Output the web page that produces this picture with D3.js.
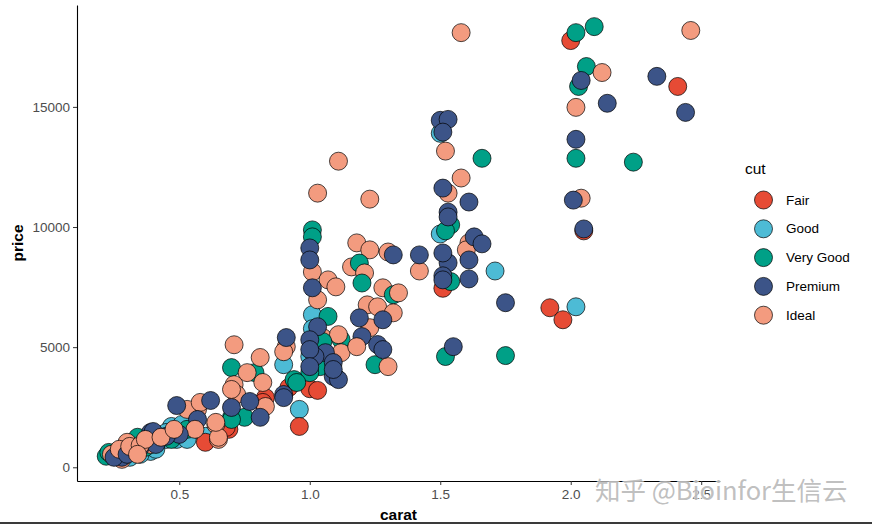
<!DOCTYPE html>
<html><head><meta charset="utf-8">
<script src="https://cdn.jsdelivr.net/npm/d3@7"></script>
<style>
html,body{margin:0;padding:0;background:#fff;}
svg{display:block;font-family:"Liberation Sans",Arial,sans-serif;}
</style>
</head><body>
<svg id="chart" width="872" height="525"></svg>
<script>
// ---- data (carat, price) ----
const cuts = ["Fair","Good","Very Good","Premium","Ideal"];
const cutColors = ["#E64B35","#4DBBD5","#00A087","#3C5488","#F39B7F"];
const xTicks = [0.5,1.0,1.5,2.0,2.5];
const yTicks = [0,5000,10000,15000];

const fair = [[2.00,17760],[2.41,15850],[1.92,6640],[1.97,6140],[2.05,9840],[1.51,7450],[1.00,3270],[1.03,3200],[0.92,3320],[0.96,1700],[0.83,2900],[0.69,1580],[0.68,1660],[0.60,1040],[0.82,2700]];
const good = [[2.02,6680],[1.71,8170],[1.50,9710],[1.50,13900],[1.01,6350],[1.01,5770],[1.00,4610],[0.90,4270],[0.96,2410],[0.45,1160],[0.47,1700],[0.51,1785],[0.60,1290],[0.45,1450],[0.31,415],[0.39,660],[0.49,1160],[0.35,540],[0.41,750],[0.53,1160]];
const veryGood = [[2.02,18090],[2.09,18340],[2.06,16680],[2.03,15850],[2.02,12860],[2.24,12700],[1.66,12860],[1.54,10090],[1.52,9840],[1.54,7730],[1.52,4610],[1.75,4650],[1.01,9880],[1.01,9590],[1.07,6280],[1.12,5310],[1.04,4190],[1.00,3940],[1.19,8500],[1.20,7670],[1.32,7180],[1.25,4270],[0.94,3650],[0.95,3530],[0.70,4150],[0.79,3940],[0.70,2080],[0.75,2080],[0.70,1990],[0.34,1250],[0.22,460],[0.23,620],[1.10,3740],[1.05,5230],[0.28,750],[0.27,540],[0.31,750],[0.37,830],[0.47,1160],[0.53,1580]];
const premium = [[2.33,16270],[2.44,14770],[2.14,15150],[2.04,16100],[2.02,13650],[2.01,11120],[2.05,9920],[1.50,14440],[1.53,14480],[1.51,13950],[1.51,11620],[1.61,11040],[1.53,10620],[1.53,10420],[1.63,9590],[1.66,9300],[1.61,8630],[1.53,8510],[1.51,8920],[1.51,7970],[1.51,7800],[1.61,7840],[1.75,6850],[1.55,5020],[1.42,8840],[1.32,8840],[1.19,6220],[1.28,6140],[1.20,5440],[1.26,5110],[1.28,4900],[1.00,9130],[1.00,8630],[1.01,7470],[1.03,5850],[1.06,4770],[1.09,4360],[1.09,3780],[1.11,3650],[0.91,5400],[0.90,3030],[0.90,2900],[1.00,5310],[1.02,4610],[1.09,4070],[0.70,2490],[0.77,2740],[0.81,2080],[0.62,2780],[0.57,1990],[0.49,2570],[0.50,1370],[0.39,1450],[0.40,1490],[1.00,4900],[1.00,4190],[0.35,830],[0.28,415],[0.25,415],[0.30,540],[0.41,950],[0.45,1290]];
const ideal = [[2.46,18180],[1.58,18090],[2.12,16430],[2.02,14980],[2.04,11200],[1.52,13160],[1.58,12040],[1.53,11410],[1.61,9340],[1.60,9050],[1.42,8170],[1.11,12740],[1.03,11410],[1.23,11160],[1.18,9340],[1.23,9050],[1.30,8960],[1.16,8340],[1.21,8090],[1.28,7470],[1.34,7260],[1.22,6760],[1.26,6680],[1.32,6430],[1.23,5810],[1.30,4190],[1.01,8130],[1.07,7800],[1.10,7510],[1.03,6970],[1.05,5400],[1.11,5520],[1.12,4770],[1.18,5020],[0.91,5020],[0.90,4810],[0.71,5100],[0.81,4570],[0.76,3940],[0.71,3440],[0.72,3030],[0.82,3530],[0.83,2530],[0.57,2410],[0.53,2410],[0.58,2700],[0.64,1780],[0.65,1160],[0.65,1250],[0.56,1580],[0.64,1870],[0.70,3240],[0.33,660],[0.26,540],[0.30,1040],[0.39,950],[0.28,330],[0.24,540],[0.27,750],[0.31,870],[0.35,910],[0.37,1160],[0.43,1250],[0.48,1580],[0.34,540]];

const seriesList = [fair, good, veryGood, premium, ideal];

// interleave series so draw order mixes like the original
const points = [];
const maxLen = d3.max(seriesList, s => s.length);
for (let i = 0; i < maxLen; i++) {
  seriesList.forEach((s, k) => { if (i < s.length) points.push({carat: s[i][0], price: s[i][1], cut: cuts[k]}); });
}

const svg = d3.select("#chart");
const W = 872, H = 525;
const plot = {left: 77, right: 720, top: 5, bottom: 481};

function expand(ext, f) { const r = ext[1]-ext[0]; return [ext[0]-r*f, ext[1]+r*f]; }
const x = d3.scaleLinear().domain(expand(d3.extent(points, d => d.carat), 0.05)).range([plot.left, plot.right]);
const y = d3.scaleLinear().domain(expand(d3.extent(points, d => d.price), 0.05)).range([plot.bottom, plot.top]);
const color = d3.scaleOrdinal().domain(cuts).range(cutColors);

// points
svg.append("g").selectAll("circle").data(points).join("circle")
  .attr("cx", d => x(d.carat)).attr("cy", d => y(d.price)).attr("r", 9)
  .attr("fill", d => color(d.cut)).attr("stroke", "#000").attr("stroke-width", 0.7);

// axes
const xAxis = svg.append("g").attr("transform", `translate(0,${plot.bottom})`)
  .call(d3.axisBottom(x).tickValues(xTicks).tickFormat(d3.format(".1f")).tickSize(4).tickSizeOuter(0));
const yAxis = svg.append("g").attr("transform", `translate(${plot.left},0)`)
  .call(d3.axisLeft(y).tickValues(yTicks).tickFormat(d => String(d)).tickSize(4).tickSizeOuter(0));
[xAxis, yAxis].forEach(a => {
  a.select(".domain").attr("stroke", "#000").attr("stroke-width", 1.1);
  a.selectAll(".tick line").attr("stroke", "#333").attr("stroke-width", 1);
  a.selectAll(".tick text").attr("fill", "#4D4D4D").style("font-size", "13.5px").style("font-family", "'Liberation Sans',Arial,sans-serif");
});
xAxis.selectAll(".tick text").attr("dy", "0.9em").attr("y", 6);
yAxis.selectAll(".tick text").attr("x", -7);

// axis titles
svg.append("text").attr("x", (plot.left+plot.right)/2).attr("y", 520).attr("text-anchor", "middle")
  .style("font-size", "15.5px").style("font-weight", "bold").attr("fill", "#000").text("carat");
svg.append("text").attr("transform", `translate(23,${(plot.top+plot.bottom)/2}) rotate(-90)`).attr("text-anchor", "middle")
  .style("font-size", "15.5px").style("font-weight", "bold").attr("fill", "#000").text("price");

// legend
const lg = svg.append("g");
lg.append("text").attr("x", 745).attr("y", 174).style("font-size", "15.5px").attr("fill", "#000").text("cut");
cuts.forEach((c, i) => {
  const cy = 200 + i * 28.8;
  lg.append("circle").attr("cx", 763.5).attr("cy", cy).attr("r", 9).attr("fill", color(c)).attr("stroke", "#000").attr("stroke-width", 0.7);
  lg.append("text").attr("x", 786).attr("y", cy + 4.5).style("font-size", "13.5px").attr("fill", "#000").text(c);
});

// watermark
svg.append("text").attr("x", 595).attr("y", 500)
  .style("font-family", "'Noto Sans CJK SC',sans-serif").style("font-size", "25.5px")
  .attr("fill", "#b8b8b8").attr("fill-opacity", 0.9)
  .attr("stroke", "#fff").attr("stroke-width", 2.5).attr("stroke-opacity", 0.6).attr("paint-order", "stroke")
  .text("知乎 @Bioinfor生信云");

// bottom border line
svg.append("rect").attr("x", 0).attr("y", 522).attr("width", W).attr("height", 2).attr("fill", "#3a3a3a");
</script>
</body></html>
